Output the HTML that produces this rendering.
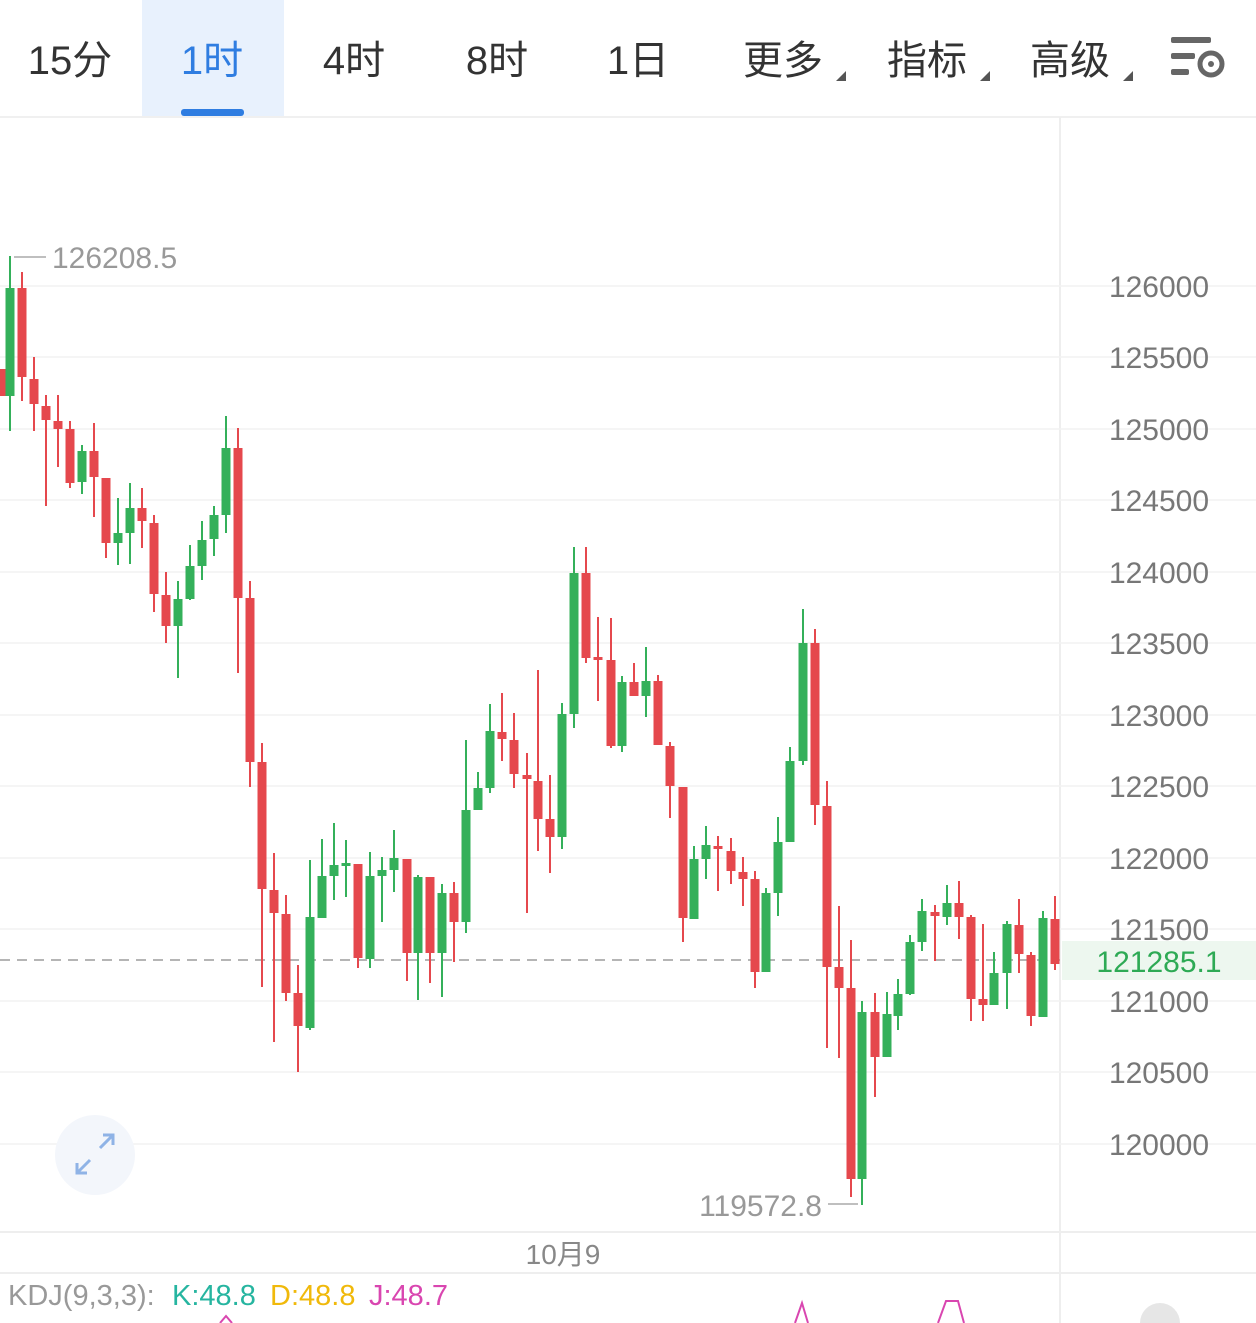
<!DOCTYPE html>
<html><head><meta charset="utf-8"><style>
body{margin:0;width:1256px;height:1323px;overflow:hidden;background:#fff;font-family:"Liberation Sans","Noto Sans CJK SC",sans-serif;}
svg{display:block}
</style></head><body>
<svg width="1256" height="1323" xmlns="http://www.w3.org/2000/svg" font-family="Liberation Sans, Noto Sans CJK SC, sans-serif">
<rect x="142" y="0" width="142" height="116" fill="#e8f1fd"/>
<rect x="181" y="109" width="63" height="7" rx="3" fill="#2f7de1"/>
<g font-size="40" fill="#333" text-anchor="middle">
<text x="70" y="74">15分</text>
<text x="212" y="74" fill="#2f7de1">1时</text>
<text x="354" y="74">4时</text>
<text x="497" y="74">8时</text>
<text x="638" y="74">1日</text>
<text x="783" y="74">更多</text>
<text x="927" y="74">指标</text>
<text x="1070" y="74">高级</text>
</g>
<g fill="#555"><path d="M836 81 L846 71 L846 81Z"/><path d="M980 81 L990 71 L990 81Z"/><path d="M1123 81 L1133 71 L1133 81Z"/></g>
<g fill="#666"><rect x="1171" y="37" width="40" height="6" rx="2"/><rect x="1171" y="53" width="24" height="6" rx="2"/><rect x="1171" y="69" width="18" height="6" rx="2"/></g>
<circle cx="1211" cy="64" r="11" fill="none" stroke="#666" stroke-width="5"/><circle cx="1211" cy="64" r="3" fill="#666"/>
<line x1="0" y1="117" x2="1256" y2="117" stroke="#f0f0f0" stroke-width="2"/>
<line x1="1060" y1="117" x2="1060" y2="1323" stroke="#eeeeee" stroke-width="2"/>
<g stroke="#f2f2f2" stroke-width="1.5">
<line x1="0" y1="286" x2="1256" y2="286"/><line x1="0" y1="357" x2="1256" y2="357"/><line x1="0" y1="429" x2="1256" y2="429"/><line x1="0" y1="500" x2="1256" y2="500"/><line x1="0" y1="572" x2="1256" y2="572"/><line x1="0" y1="643" x2="1256" y2="643"/><line x1="0" y1="715" x2="1256" y2="715"/><line x1="0" y1="786" x2="1256" y2="786"/><line x1="0" y1="858" x2="1256" y2="858"/><line x1="0" y1="929" x2="1256" y2="929"/><line x1="0" y1="1001" x2="1256" y2="1001"/><line x1="0" y1="1072" x2="1256" y2="1072"/><line x1="0" y1="1144" x2="1256" y2="1144"/>
</g>
<line x1="0" y1="1232" x2="1256" y2="1232" stroke="#eeeeee" stroke-width="2"/>
<line x1="0" y1="1273" x2="1256" y2="1273" stroke="#eeeeee" stroke-width="2"/>
<g font-size="30" fill="#777" text-anchor="middle">
<text x="1159" y="297">126000</text><text x="1159" y="368">125500</text><text x="1159" y="440">125000</text><text x="1159" y="511">124500</text><text x="1159" y="583">124000</text><text x="1159" y="654">123500</text><text x="1159" y="726">123000</text><text x="1159" y="797">122500</text><text x="1159" y="869">122000</text><text x="1159" y="940">121500</text><text x="1159" y="1012">121000</text><text x="1159" y="1083">120500</text><text x="1159" y="1155">120000</text>
</g>
<rect x="1062" y="941" width="194" height="39" fill="#edf7ef"/>
<text x="1159" y="972" font-size="30" fill="#2eaa55" text-anchor="middle">121285.1</text>
<line x1="0" y1="960" x2="1060" y2="960" stroke="#b5b5b5" stroke-width="2" stroke-dasharray="10,7"/>
<line x1="14" y1="257" x2="46" y2="257" stroke="#aaa" stroke-width="1.5"/>
<text x="52" y="268" font-size="30" fill="#999">126208.5</text>
<line x1="828" y1="1204" x2="858" y2="1204" stroke="#aaa" stroke-width="1.5"/>
<text x="822" y="1216" font-size="30" fill="#999" text-anchor="end">119572.8</text>
<text x="563" y="1264" font-size="28" fill="#888" text-anchor="middle">10月9</text>
<circle cx="95" cy="1155" r="40" fill="#f3f6fb"/>
<g stroke="#8fb3e6" stroke-width="3" fill="none"><path d="M100 1148 L113 1135 M103 1135 L113 1135 L113 1145"/><path d="M90 1160 L77 1173 M77 1163 L77 1173 L87 1173"/></g>
<g font-size="29"><text x="8" y="1305" fill="#999">KDJ(9,3,3):</text><text x="172" y="1305" fill="#26b5a0">K:48.8</text><text x="270" y="1305" fill="#f0b90b">D:48.8</text><text x="369" y="1305" fill="#d946b0">J:48.7</text></g>
<g stroke="#d946b0" stroke-width="2" fill="none"><path d="M795 1323 L802 1303 L808 1323"/><path d="M938 1323 L946 1301 L958 1301 L964 1323"/><path d="M220 1323 L226 1316 L232 1323"/></g>
<circle cx="1160" cy="1323" r="20" fill="#e6e6e6"/>
<g id="c"></g>
</svg>
<script>
var R="#e5484d",G="#34b05a";
var d=[
[2,'r',369,396,369,396],[10,'g',288,396,256,431],[22,'r',288,377,272,401],[34,'r',379,404,357,431],[46,'r',406,420,395,506],[58,'r',421,429,395,467],[70,'r',429,483,421,488],[82,'g',451,482,445,494],[94,'r',451,477,423,517],[106,'r',478,543,478,558],[118,'g',533,543,498,565],[130,'g',508,533,483,564],[142,'r',508,521,488,548],[154,'r',523,594,515,612],[166,'r',595,626,572,643],[178,'g',599,626,581,678],[190,'g',566,599,545,600],[202,'g',540,566,521,580],[214,'g',515,539,506,556],[226,'g',448,515,416,533],[238,'r',448,598,428,673],[250,'r',598,762,581,787],[262,'r',762,889,743,987],[274,'r',890,913,853,1042],[286,'r',914,993,895,1001],[298,'r',993,1026,965,1072],[310,'g',917,1028,860,1030],[322,'g',876,918,839,918],[334,'g',865,876,823,900],[346,'g',863,865,840,897],
[358,'r',864,958,864,968],[370,'g',876,959,852,968],[382,'g',870,876,857,922],[394,'g',858,870,830,892],[407,'r',859,953,859,981],[418,'g',877,953,875,1000],[430,'r',877,953,877,983],[442,'g',893,953,884,997],[454,'r',893,922,882,962],[466,'g',810,922,740,933],[478,'g',788,810,772,810],[490,'g',731,788,704,793],[502,'r',732,739,693,761],[514,'r',740,774,713,788],[527,'r',775,779,753,913],[538,'r',781,819,670,851],[550,'r',819,837,775,873],[562,'g',714,837,703,849],[574,'g',573,714,547,728],[586,'r',573,658,547,663],[598,'r',657,660,617,701],[611,'r',660,746,618,748],[622,'g',682,746,676,752],[634,'r',682,696,663,696],[646,'g',681,696,647,717],[658,'r',681,745,675,745],[670,'r',746,786,742,818],[683,'r',787,918,787,942],
[694,'g',859,919,846,919],[706,'g',845,859,826,879],[718,'r',846,849,836,891],[731,'r',851,871,838,884],[743,'r',872,879,857,906],[755,'r',879,972,871,988],[766,'g',893,972,888,972],[778,'g',842,893,817,916],[790,'g',761,842,747,842],[803,'g',643,761,609,765],[815,'r',643,805,629,825],[827,'r',806,967,781,1048],[839,'r',967,988,906,1058],[851,'r',988,1179,940,1197],[862,'g',1012,1179,1001,1205],[875,'r',1012,1057,993,1097],[887,'g',1014,1057,992,1057],[898,'g',994,1016,979,1030],[910,'g',942,994,935,995],[922,'g',911,942,899,951],[935,'r',912,916,905,961],[947,'g',903,917,885,925],[959,'r',903,917,881,939],[971,'r',917,999,915,1021],[983,'r',999,1005,924,1021],[994,'g',973,1005,952,1005],[1007,'g',924,973,921,1009],[1019,'r',925,954,899,973],[1031,'r',955,1016,952,1026],[1043,'g',918,1017,911,1017],[1055,'r',919,964,896,970]];
var s="";d.forEach(function(c){var col=c[1]=='r'?R:G;var h=Math.max(3,c[3]-c[2]);
s+='<line x1="'+c[0]+'" x2="'+c[0]+'" y1="'+c[4]+'" y2="'+c[5]+'" stroke="'+col+'" stroke-width="2"/>';
s+='<rect x="'+(c[0]-4.5)+'" y="'+c[2]+'" width="9" height="'+h+'" fill="'+col+'"/>';});
document.getElementById('c').innerHTML=s;
</script>
</body></html>
